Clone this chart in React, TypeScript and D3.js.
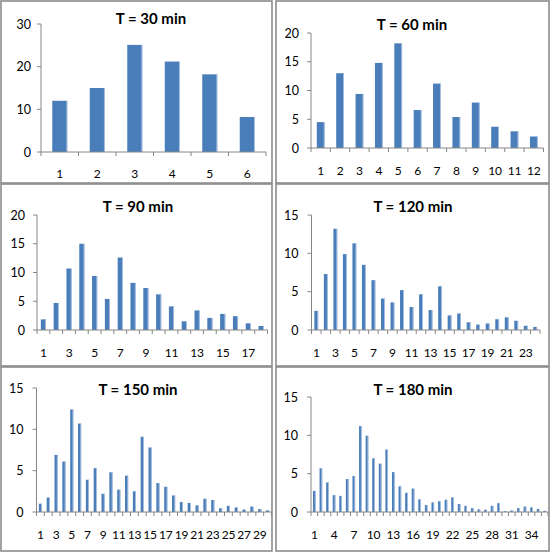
import * as d3 from 'd3'
import React from 'react'

// bar heights (category = 1..n)
const t30 = [12, 15, 25.1, 21.2, 18.2, 8.2]
const t60 = [4.5, 13, 9.4, 14.8, 18.2, 6.6, 11.2, 5.4, 7.9, 3.7, 2.9, 2.0]
const t90 = [1.85, 4.7, 10.7, 15, 9.4, 5.4, 12.6, 8.2, 7.3, 6.2, 4.1, 1.5, 3.4, 2.1, 2.8, 2.4, 1.15, 0.7]
const t120 = [
  2.5, 7.3, 13.2, 9.9, 11.3, 8.5, 6.5, 4.1, 3.6, 5.2, 3.0, 4.65, 2.6, 5.7, 1.9, 2.15, 1.0, 0.7, 0.85, 1.4,
  1.65, 1.2, 0.55, 0.4,
]
const t150 = [
  1.0, 1.75, 6.9, 6.1, 12.4, 10.7, 3.9, 5.3, 2.2, 4.8, 2.7, 4.4, 2.5, 9.1, 7.8, 3.5, 3.05, 2.0, 1.2, 1.1,
  0.8, 1.6, 1.45, 0.45, 0.75, 0.55, 0.3, 0.65, 0.35, 0.2,
]
const t180 = [
  2.75, 5.7, 3.85, 2.2, 2.1, 4.3, 4.7, 11.2, 9.95, 7.0, 6.3, 8.15, 5.2, 3.35, 2.5, 3.05, 1.65, 0.9, 1.25,
  1.4, 1.6, 1.9, 1.05, 0.8, 0.5, 0.35, 0.3, 0.8, 1.15, 0.1, 0.2, 0.5, 0.7, 0.6, 0.4, 0.15,
]
const titles = ['T = 30 min', 'T = 60 min', 'T = 90 min', 'T = 120 min', 'T = 150 min', 'T = 180 min']
const yMaxes = [30, 20, 20, 15, 15, 15]
const ySteps = [10, 5, 5, 5, 5, 5]
const labelEvery = [1, 1, 2, 2, 2, 3]

const BAR = '#4a7ebb'
const BAR_EDGE = '#b3c8e3'
const AXIS = '#868686'
const BORDER = '#8c8c8c'
const FONT = 'Lato, Carlito, "Open Sans", sans-serif'

// layout of each panel (absolute px)
const layout = [
  { box: [1, 1, 272, 183], x0: 41, x1: 266, yTop: 24, yZero: 152, titleX: 151, titleY: 18, xLabY: 173, yLabGap: 10 },
  { box: [276, 1, 549, 183], x0: 311, x1: 543.5, yTop: 33, yZero: 148, titleX: 412, titleY: 24, xLabY: 170, yLabGap: 12 },
  { box: [1, 184, 272, 366], x0: 37, x1: 267.5, yTop: 215, yZero: 330, titleX: 138, titleY: 206, xLabY: 352, yLabGap: 12 },
  { box: [276, 184, 549, 366], x0: 311.5, x1: 540, yTop: 215, yZero: 330, titleX: 413, titleY: 206, xLabY: 352, yLabGap: 13 },
  { box: [1, 367, 272, 551], x0: 36.5, x1: 271.5, yTop: 388, yZero: 512, titleX: 138, titleY: 389, xLabY: 534, yLabGap: 13 },
  { box: [276, 367, 549, 551], x0: 311, x1: 548, yTop: 397, yZero: 512, titleX: 413, titleY: 389, xLabY: 534, yLabGap: 13 },
]

const series = [t30, t60, t90, t120, t150, t180]

const Panel = ({ values, title, yMax, yStep, every, lay }) => {
  const cats = values.map((_, i) => String(i + 1))
  const x = d3.scaleBand().domain(cats).range([lay.x0, lay.x1]).paddingInner(0.6).paddingOuter(0.3)
  const y = d3.scaleLinear().domain([0, yMax]).range([lay.yZero, lay.yTop])
  const yTicks = d3.range(0, yMax + yStep / 2, yStep)
  const step = x.step()
  const bw = x.bandwidth()
  const [bx0, by0, bx1, by1] = lay.box

  return (
    <g>
      <rect x={bx0} y={by0} width={bx1 - bx0} height={by1 - by0} fill="white" stroke={BORDER} strokeWidth={1.6} />
      <text x={lay.titleX} y={lay.titleY} textAnchor="middle" dominantBaseline="central" fontFamily={FONT} fontWeight="bold" fontSize={15} fill="#000">
        {title}
      </text>
      {values.map((v, i) => (
        <g key={i}>
          <rect x={x(cats[i])} y={y(v)} width={bw} height={y(0) - y(v)} fill={BAR} />
          <rect x={x(cats[i]) + bw - 0.8} y={y(v)} width={0.8} height={y(0) - y(v)} fill={BAR_EDGE} />
        </g>
      ))}
      <line x1={lay.x0} x2={lay.x0} y1={lay.yTop} y2={lay.yZero} stroke={AXIS} strokeWidth={1} />
      <line x1={lay.x0} x2={lay.x1} y1={lay.yZero} y2={lay.yZero} stroke={AXIS} strokeWidth={1} />
      {yTicks.map((t) => (
        <g key={t}>
          <line x1={lay.x0 - 4} x2={lay.x0} y1={y(t)} y2={y(t)} stroke={AXIS} />
          <text x={lay.x0 - lay.yLabGap} y={y(t)} textAnchor="end" dominantBaseline="central" fontFamily={FONT} fontSize={12.5} fill="#000">
            {t}
          </text>
        </g>
      ))}
      {d3.range(cats.length + 1).map((i) => (
        <line key={i} x1={lay.x0 + i * step} x2={lay.x0 + i * step} y1={lay.yZero} y2={lay.yZero + 4} stroke={AXIS} />
      ))}
      {cats.map((c, i) =>
        i % every === 0 ? (
          <text key={c} x={x(c) + bw / 2} y={lay.xLabY} textAnchor="middle" dominantBaseline="central" fontFamily={FONT} fontSize={12} letterSpacing={-0.2} fill="#000">
            {c}
          </text>
        ) : null
      )}
    </g>
  )
}

const App = () => (
  <svg width={551} height={553} style={{ position: 'absolute', left: 0, top: 0, display: 'block' }}>
    <rect width={551} height={553} fill="white" />
    {series.map((s, k) => (
      <Panel key={k} values={s} title={titles[k]} yMax={yMaxes[k]} yStep={ySteps[k]} every={labelEvery[k]} lay={layout[k]} />
    ))}
  </svg>
)

export default App
